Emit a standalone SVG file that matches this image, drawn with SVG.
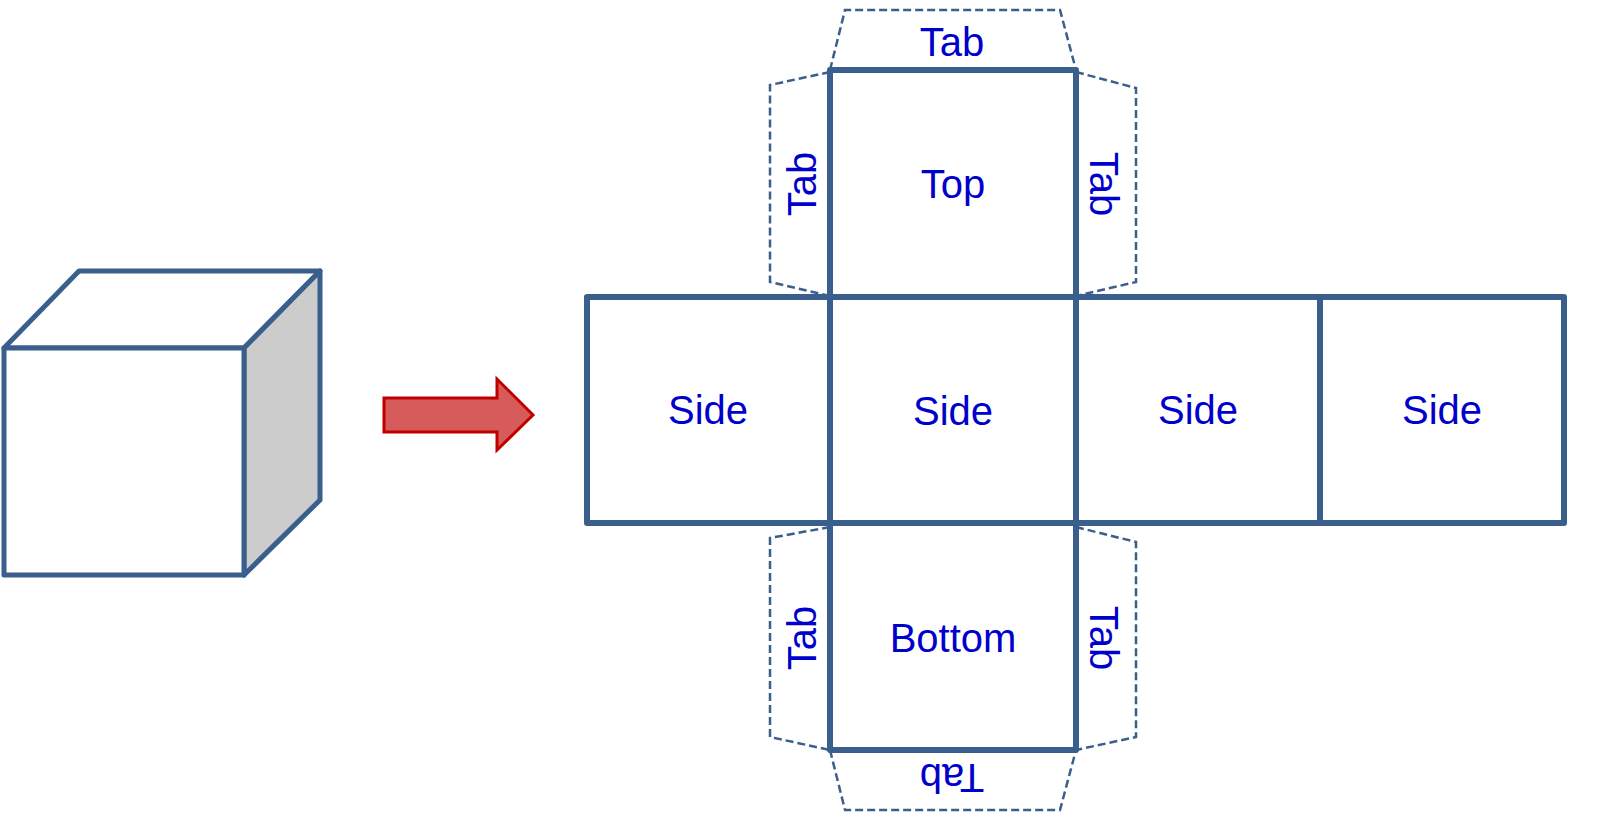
<svg xmlns="http://www.w3.org/2000/svg" width="1600" height="838" viewBox="0 0 1600 838">
<style>
.f{fill:#fff;stroke:#3B5F8C;stroke-width:5;stroke-linejoin:round}
.n{stroke-width:6}
.t{fill:none;stroke:#3B5F8C;stroke-width:2.5;stroke-dasharray:8,4}
text{font-family:"Liberation Sans",Arial,sans-serif;font-size:40px;fill:#0000CC;text-anchor:middle;dominant-baseline:central}
</style>
<rect width="1600" height="838" fill="#fff"/>
<g id="cube">
<polygon class="f" points="4,348 79,271 320,271 244,348"/>
<polygon class="f" points="244,348 320,271 320,500 244,575" style="fill:#CCCCCC"/>
<rect class="f" x="4" y="348" width="240" height="227"/>
</g>
<g id="arrow"><polygon points="384,398 497,398 497,379 533,415 497,450 497,432 384,432" fill="#D75B5B" stroke="#C00000" stroke-width="3"/></g>
<g id="tabs">
<polyline class="t" points="830,70 845,10 1060,10 1076,70"/>
<polyline class="t" points="830,72 770,85 770,282 830,296"/>
<polyline class="t" points="1076,72 1136,88 1136,282 1076,296"/>
<polyline class="t" points="830,527 770,538 770,737 830,750"/>
<polyline class="t" points="1076,527 1136,542 1136,737 1076,750"/>
<polyline class="t" points="830,750 845,810 1060,810 1076,750"/>
<text x="952" y="42">Tab</text>
<text transform="translate(802,184) rotate(-90)">Tab</text>
<text transform="translate(1104,184) rotate(90)">Tab</text>
<text transform="translate(802,638) rotate(-90)">Tab</text>
<text transform="translate(1104,638) rotate(90)">Tab</text>
<text transform="translate(952,778) rotate(180)">Tab</text>
</g>
<g id="top"><rect class="f n" x="830" y="70" width="246" height="227"/><text x="953" y="184">Top</text></g>
<g id="side1"><rect class="f n" x="587" y="297" width="243" height="226"/><text x="708" y="410">Side</text></g>
<g id="side2"><rect class="f n" x="830" y="297" width="246" height="226"/><text x="953" y="411">Side</text></g>
<g id="side3"><rect class="f n" x="1076" y="297" width="244" height="226"/><text x="1198" y="410">Side</text></g>
<g id="side4"><rect class="f n" x="1320" y="297" width="244" height="226"/><text x="1442" y="410">Side</text></g>
<g id="bottom"><rect class="f n" x="830" y="523" width="246" height="227"/><text x="953" y="638">Bottom</text></g>
</svg>
